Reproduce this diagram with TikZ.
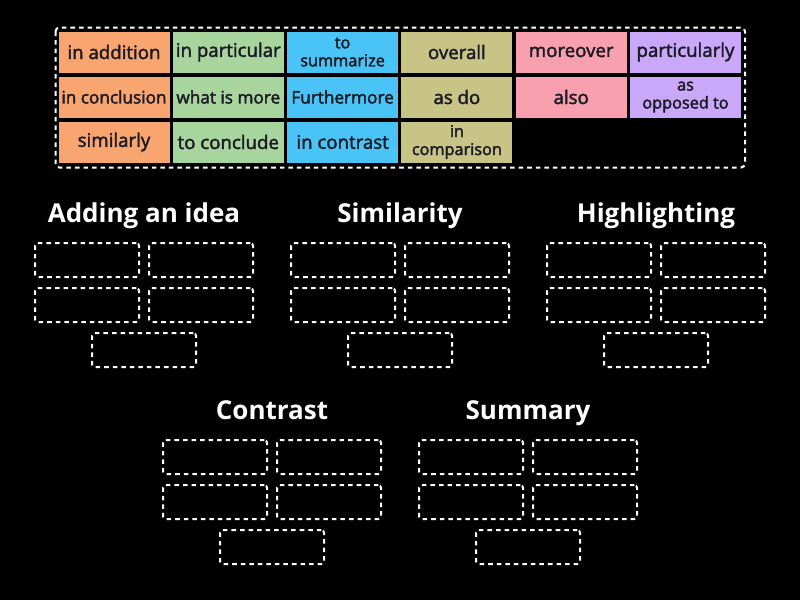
\documentclass[tikz,border=0pt]{standalone}
\usepackage{fontspec}
\setmainfont{Open Sans}

\definecolor{tileorange}{RGB}{248,165,111}
\definecolor{tilegreen}{RGB}{168,213,157}
\definecolor{tileblue}{RGB}{74,196,247}
\definecolor{tileolive}{RGB}{200,196,133}
\definecolor{tilepink}{RGB}{248,160,174}
\definecolor{tilelilac}{RGB}{201,167,249}
\definecolor{tiletext}{RGB}{28,26,36}

% slightly heavier tile text (fill + stroke)
\newcommand{\semiword}[1]{\special{pdf:code 2 Tr 0.3 w}#1\special{pdf:code 0 Tr}}

\tikzset{every picture/.style={line width=0.75pt}}
\tikzset{
  tile/.style={fill=#1, draw=none, minimum width=83.25pt, minimum height=30.75pt,
    inner sep=0pt, text=tiletext, align=center, font=\fontsize{14}{16}\selectfont},
  smalltile/.style={tile=#1, font=\fontsize{12.9}{14}\selectfont},
  twotile/.style={tile=#1, font=\fontsize{12.2}{13.5}\selectfont},
  slot/.style={draw=white, line width=1.5pt, dash pattern=on 3.4pt off 3pt,
    rounded corners=2pt, minimum width=78pt, minimum height=25.5pt, inner sep=0pt},
  heading/.style={text=white, font=\bfseries\fontsize{19.5}{24}\selectfont, anchor=base},
  bank/.style={draw=white, line width=1.5pt, dash pattern=on 3.4pt off 3pt, rounded corners=3pt}
}

\begin{document}
\begin{tikzpicture}[x=0.75pt,y=0.75pt,yscale=-1,xscale=1]
	\fill[black] (0,0) rectangle (800,600);
	\useasboundingbox (0,0) rectangle (800,600);

	% Word bank
	\draw[bank] (55.5,27.5) rectangle (745,167.5);

	% Row 1
	\node[tile=tileorange] (inaddition) at (114,52) {\semiword{in addition}};
	\node[tile=tilegreen] (inparticular) at (228.3,52) {\semiword{in particular}};
	\node[twotile=tileblue] (tosummarize) at (342.6,52) {\semiword{to}\\\semiword{summarize}};
	\node[tile=tileolive] (overall) at (456.9,52) {\semiword{overall}};
	\node[tile=tilepink] (moreover) at (571.2,52) {\semiword{moreover}};
	\node[tile=tilelilac] (particularly) at (685.5,52) {\semiword{particularly}};
	% Row 2
	\node[smalltile=tileorange] (inconclusion) at (114,97) {\semiword{in conclusion}};
	\node[smalltile=tilegreen] (whatismore) at (228.3,97) {\semiword{what is more}};
	\node[smalltile=tileblue] (furthermore) at (342.6,97) {\semiword{Furthermore}};
	\node[tile=tileolive] (asdo) at (456.9,97) {\semiword{as do}};
	\node[tile=tilepink] (also) at (571.2,97) {\semiword{also}};
	\node[twotile=tilelilac] (asopposedto) at (685.5,97) {\semiword{as}\\\semiword{opposed to}};
	% Row 3
	\node[tile=tileorange] (similarly) at (114,142) {\semiword{similarly}};
	\node[tile=tilegreen] (toconclude) at (228.3,142) {\semiword{to conclude}};
	\node[tile=tileblue] (incontrast) at (342.6,142) {\semiword{in contrast}};
	\node[twotile=tileolive] (incomparison) at (456.9,142) {\semiword{in}\\\semiword{comparison}};

	% Groups of empty slots
	\foreach \n/\x/\y/\t in {add/35/243/Adding an idea, sim/291/243/Similarity,
	    high/547/243/Highlighting, contr/163/440/Contrast, summ/419/440/Summary}{
		\node[heading] (\n-title) at ({\x+109},{\y-21}) {\t};
		\node[slot] (\n-1) at ({\x+52},{\y+17}) {};
		\node[slot] (\n-2) at ({\x+166},{\y+17}) {};
		\node[slot] (\n-3) at ({\x+52},{\y+62}) {};
		\node[slot] (\n-4) at ({\x+166},{\y+62}) {};
		\node[slot] (\n-5) at ({\x+109},{\y+107}) {};
	}

\end{tikzpicture}
\end{document}
